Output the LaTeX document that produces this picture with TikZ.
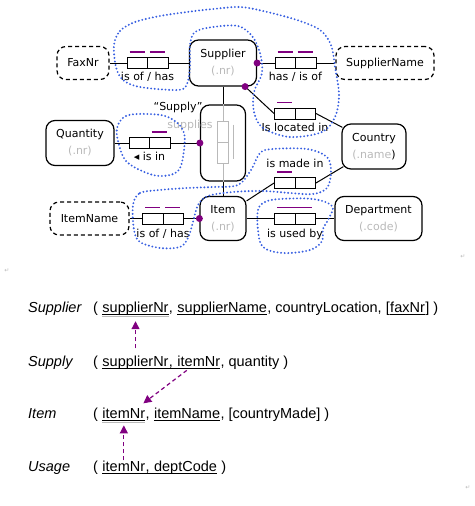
\documentclass[tikz,border=0pt]{standalone}
\usepackage{fontspec}
\newfontfamily\ormfont{DejaVu Sans}
\newfontfamily\relfont{Liberation Sans}
\usetikzlibrary{arrows.meta,positioning}
\definecolor{ormpurple}{RGB}{128,0,128}
\definecolor{blobblue}{RGB}{55,95,225}
\definecolor{ltgray}{RGB}{185,185,185}
\newcommand{\relsp}{\kern0.28em}
\tikzset{
  ent/.style={draw, line width=1.2pt, rounded corners=9pt, align=center, inner sep=0pt,
    font=\ormfont\fontsize{11}{17}\selectfont},
  val/.style={ent, dash pattern=on 4pt off 3pt},
  fact/.style={draw, line width=0.9pt, minimum width=41pt, minimum height=11pt, inner sep=0pt,
    path picture={\draw[line width=0.9pt] (path picture bounding box.north) -- (path picture bounding box.south);}},
  vfact/.style={draw=ltgray, line width=0.9pt, minimum width=11.5pt, minimum height=42pt, inner sep=0pt,
    path picture={\draw[ltgray, line width=0.9pt] (path picture bounding box.west) -- (path picture bounding box.east);}},
  lbl/.style={font=\ormfont\fontsize{11}{13}\selectfont, inner sep=1pt},
  conn/.style={line width=1pt},
  rolebar/.style={draw=ormpurple, line width=1.5pt},
  blob/.style={draw=blobblue, line width=2.1pt, line cap=round, dash pattern=on 0pt off 3.6pt},
  rel/.style={font=\relfont\fontsize{14.5}{16}\selectfont, inner sep=0pt, anchor=base west},
  uline/.style={line width=0.7pt},
  fk/.style={draw=ormpurple, line width=1.2pt, dash pattern=on 4pt off 3pt, -{Triangle[length=8pt,width=8pt]}},
  retmark/.style={font=\ormfont\fontsize{6}{6}\selectfont, text=ltgray, inner sep=0pt},
}
\begin{document}
\begin{tikzpicture}[x=1pt,y=-1pt]
  \useasboundingbox (0,0) rectangle (474,506);

  % object types
  \node[val, minimum width=52pt, minimum height=33pt] (fax) at (83,63) {FaxNr};
  \node[ent, minimum width=67pt, minimum height=46pt] (sup) at (223,63) {Supplier\\{\color{ltgray}(.nr)}};
  \node[val, minimum width=98pt, minimum height=33pt] (supname) at (385,63) {SupplierName};
  \node[ent, minimum width=68pt, minimum height=45pt] (qty) at (80,143) {Quantity\\{\color{ltgray}(.nr)}};
  \node[ent, minimum width=45pt, minimum height=76pt] (supply) at (223,143) {};
  \node[ent, minimum width=64pt, minimum height=45pt] (country) at (374,146.5) {Country\\{\color{ltgray}(.name})};
  \node[val, minimum width=79pt, minimum height=33pt] (itemname) at (89.5,218.5) {ItemName};
  \node[ent, minimum width=46pt, minimum height=44pt] (item) at (223,218.5) {Item\\{\color{ltgray}(.nr)}};
  \node[ent, minimum width=87pt, minimum height=44pt] (dept) at (378.5,218.5) {Department\\{\color{ltgray}(.code)}};

  % fact types
  \node[fact] (fFax)   at (147.5,63) {};
  \node[fact] (fName)  at (295.5,63) {};
  \node[fact] (fLoc)   at (295,113.5) {};
  \node[fact] (fQty)   at (149.5,143) {};
  \node[fact] (fIName) at (163,218.5) {};
  \node[fact] (fMade)  at (295,183) {};
  \node[fact] (fUsed)  at (295,218.5) {};
  \node[vfact] (fSupplies) at (223,142) {};

  \node[lbl, below=2pt of fFax] {is of / has};
  \node[lbl, below=2pt of fName] {has / is of};
  \node[lbl, below=2.5pt of fLoc] {Is located in};
  \node[lbl, below=2pt of fQty] {◂ is in};
  \node[lbl, below=3pt of fIName] {is of / has};
  \node[lbl, above=8pt of fMade] {is made in};
  \node[lbl, below=3pt of fUsed] {is used by};
  \node[lbl] (supplyname) at (178,107) {“Supply”};
  \node[lbl, text=ltgray] (supplies) at (190,125) {supplies};

  % connectors
  \draw[conn] (fax) -- (fFax) -- (sup);
  \draw[conn] (sup) -- (fName) -- (supname);
  \draw[conn] ([xshift=-12pt]sup.south east) -- (fLoc.west);
  \draw[conn] (fLoc.east) -- ([shift={(1pt,-4pt)}]country.north west);
  \draw[conn] (qty) -- (fQty) -- (supply);
  \draw[conn] (itemname) -- (fIName) -- (item);
  \draw[conn] ([yshift=-5pt]item.north east) -- (fMade.west);
  \draw[conn] (fMade.east) -- ([shift={(2pt,3pt)}]country.south west);
  \draw[conn] (item) -- (fUsed) -- (dept);
  \draw[conn] (sup) -- (supply);
  \draw[conn] (supply) -- (item);
  \draw[ltgray, line width=0.9pt] (supply.north) -- (fSupplies.north);
  \draw[ltgray, line width=0.9pt] (fSupplies.south) -- (supply.south);
  \draw[ltgray, line width=0.9pt] ([shift={(4pt,-4pt)}]fSupplies.north east) -- ([shift={(4pt,4pt)}]fSupplies.south east);

  % role dots
  \foreach \p in {sup.east, supply.west, item.west}
    \fill[ormpurple] (\p) circle (3.5pt);
  \fill[ormpurple] ([xshift=-12pt]sup.south east) circle (3.5pt);

  % uniqueness bars
  \foreach \f in {fFax, fName, fIName} {
    \draw[rolebar] ([shift={(3pt,5pt)}]\f.north west) -- ++(15,0);
    \draw[rolebar] ([shift={(23pt,5pt)}]\f.north west) -- ++(15,0);
  }
  \foreach \f in {fLoc, fMade}
    \draw[rolebar] ([shift={(3pt,5pt)}]\f.north west) -- ++(15,0);
  \draw[rolebar] ([shift={(23pt,5pt)}]fQty.north west) -- ++(15,0);
  \draw[rolebar] ([shift={(3pt,5pt)}]fUsed.north west) -- ++(35,0);

  % groupings
  \draw[blob] plot[smooth cycle, tension=0.55] coordinates {
    (114,45) (120,31) (135,22) (160,16) (187,12) (213,9) (240,7) (263,11) (297,20) (320,30)
    (331,45) (335,67) (339,95) (335,117) (322,132) (290,137) (263,128) (254,112) (254,92)
    (262,73) (260,53) (252,36) (238,26) (213,27) (195,32) (190,45) (190,67) (187,84)
    (178,90) (140,87) (123,80) (116,67)};
  \draw[blob] plot[smooth cycle, tension=0.6] coordinates {
    (117,128) (126,116) (147,114) (168,117) (183,130) (184,150) (178,171) (160,176)
    (142,171) (126,161) (119,145)};
  \draw[blob] plot[smooth cycle, tension=0.55] coordinates {
    (133,205) (140,193) (160,190) (187,188) (213,187) (238,185) (251,170) (260,153)
    (273,149) (307,149) (327,157) (331,172) (327,188) (313,194) (290,193) (263,191)
    (233,192) (208,196) (198,205) (193,222) (188,238) (180,247) (160,248) (140,242)
    (134,230)};
  \draw[blob] plot[smooth cycle, tension=0.6] coordinates {
    (258,210) (265,202) (280,199) (313,199) (332,206) (329,218) (323,229) (322,241)
    (310,250) (283,253) (263,247) (258,230)};

  % relational schema
  \node[rel] (rSup) at (28,312) {\textit{Supplier}};
  \node[rel] (rSup0) at (93,312) {(\relsp};
  \node[rel] (rSupNr) at (rSup0.base east) {supplierNr};
  \node[rel] (rSup1) at (rSupNr.base east) {,\relsp};
  \node[rel] (rSupName) at (rSup1.base east) {supplierName};
  \node[rel] (rSup2) at (rSupName.base east) {, countryLocation, [};
  \node[rel] (rFax) at (rSup2.base east) {faxNr};
  \node[rel] at (rFax.base east) {]\relsp)};

  \node[rel] (sName) at (28,366) {\textit{Supply}};
  \node[rel] (s0) at (93,366) {(\relsp};
  \node[rel] (sSupNr) at (s0.base east) {supplierNr};
  \node[rel] (s1) at (sSupNr.base east) {,\relsp};
  \node[rel] (sItemNr) at (s1.base east) {itemNr};
  \node[rel] at (sItemNr.base east) {, quantity )};

  \node[rel] (iName) at (28,418) {\textit{Item}};
  \node[rel] (i0) at (93,418) {(\relsp};
  \node[rel] (iItemNr) at (i0.base east) {itemNr};
  \node[rel] (i1) at (iItemNr.base east) {,\relsp};
  \node[rel] (iItemName) at (i1.base east) {itemName};
  \node[rel] at (iItemName.base east) {, [countryMade] )};

  \node[rel] (uName) at (28,471) {\textit{Usage}};
  \node[rel] (u0) at (93,471) {(\relsp};
  \node[rel] (uItemNr) at (u0.base east) {itemNr};
  \node[rel] (u1) at (uItemNr.base east) {,\relsp};
  \node[rel] (uDept) at (u1.base east) {deptCode};
  \node[rel] at (uDept.base east) {\relsp)};

  % keys
  \foreach \a/\b in {rSupNr/rSupNr, rSupName/rSupName, rFax/rFax, sSupNr/sItemNr,
                     iItemNr/iItemNr, iItemName/iItemName, uItemNr/uDept}
    \draw[uline] ([yshift=-2pt]\a.base west) -- ([yshift=-2pt]\b.base east);
  \foreach \a in {rSupNr, iItemNr}
    \draw[uline, ltgray] ([yshift=-4pt]\a.base west) -- ([yshift=-4pt]\a.base east);

  % foreign keys
  \draw[fk] ([yshift=7pt]sSupNr.north) -- ([yshift=-6pt]rSupNr.south);
  \draw[fk] ([shift={(-12pt,-4pt)}]sItemNr.south) -- ([shift={(-2pt,4pt)}]iItemNr.north east);
  \draw[fk] (uItemNr.north) -- ([yshift=-7pt]iItemNr.south);

  \node[retmark] at (7,271) {↵};
  \node[retmark] at (463,257) {↵};
  \node[retmark] at (468,488) {↵};
\end{tikzpicture}
\end{document}
